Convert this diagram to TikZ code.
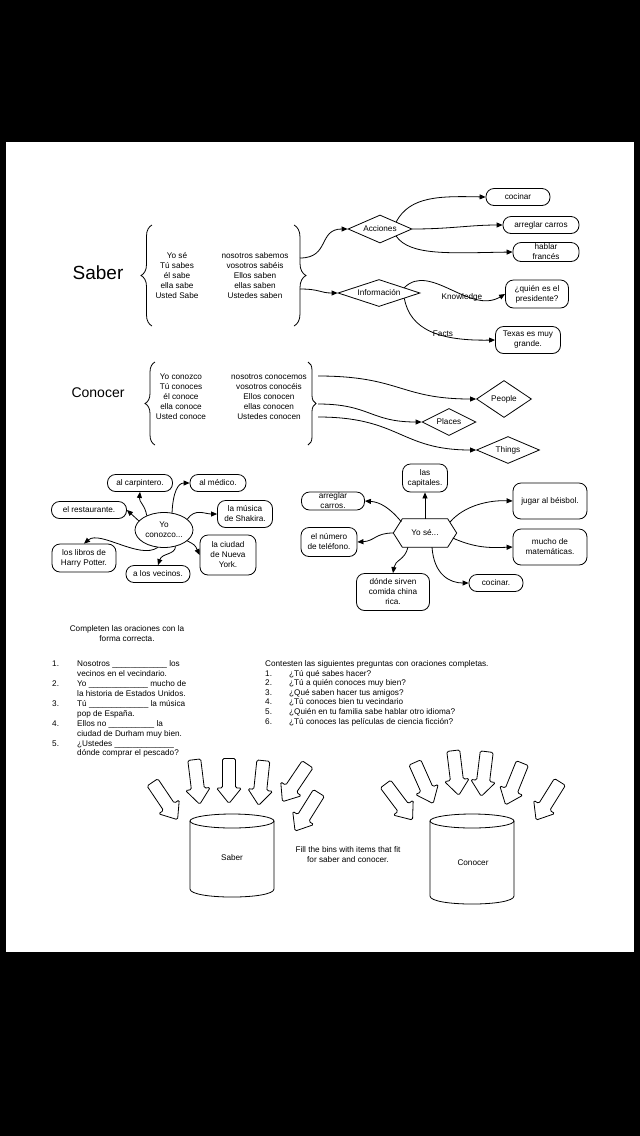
\documentclass[tikz,border=0pt]{standalone}
\usepackage{fontspec}
\setmainfont{Liberation Sans}
\usetikzlibrary{shapes.geometric,arrows.meta,decorations.pathreplacing}
\newcommand{\smallfs}{\fontsize{8.2}{10}\selectfont}
\begin{document}
\begin{tikzpicture}[x=1pt,y=-1pt,
  every node/.style={font=\smallfs, inner sep=0pt, align=center},
  box/.style={draw, line width=0.8pt, rounded corners=8pt},
  dia/.style={draw, diamond, line width=0.8pt},
  conn/.style={draw, line width=0.8pt, -{Triangle[length=6pt,width=5pt]}},
  brc/.style={draw, line width=0.8pt, decorate, decoration={brace, amplitude=#1}},
  tx/.style={anchor=base west, align=left},
  barrow/.pic={\draw[line width=0.8pt, rounded corners=1.5pt] (-22.5,-6.5) -- (7,-6.5) -- (7,-12.5) -- (22.5,0) -- (7,12.5) -- (7,6.5) -- (-22.5,6.5) -- cycle;}
  ]
\fill[black] (0,0) rectangle (640,1136);
\fill[white] (6,142) rectangle (634,952);

% ---------- Saber ----------
\node[font=\fontsize{19}{22}\selectfont] (saber) at (98,273) {Saber};
\node (s1) at (177,276) {Yo sé\\Tú sabes\\él sabe\\ella sabe\\Usted Sabe};
\node (s2) at (255,276) {nosotros sabemos\\vosotros sabéis\\Ellos saben\\ellas saben\\Ustedes saben};
\draw[brc=11pt] (152,326) -- (152,225);
\draw[brc=12pt] (294,225) -- (294,326);
\coordinate (sa) at (300,258);
\coordinate (sb) at (300,289);

\node[dia, minimum width=64, minimum height=28, aspect=2.3] (acc) at (380,229) {Acciones};
\node[dia, minimum width=82, minimum height=27, aspect=3] (info) at (379,293) {Información};

\node[box, minimum width=64, minimum height=17] (coc1) at (518,197) {cocinar};
\node[box, minimum width=76, minimum height=17] (arr1) at (541,225) {arreglar carros};
\node[box, minimum width=66, minimum height=19] (hab) at (546,252) {hablar\\francés};
\node[box, minimum width=63, minimum height=28] (qui) at (537,294) {¿quién es el\\presidente?};
\node[box, minimum width=65, minimum height=27] (tex) at (528,340) {Texas es muy\\grande.};

\draw[conn] (sa) .. controls (330,258) and (318,229) .. (acc.west);
\draw[conn] (sb) .. controls (320,289) and (320,293) .. (info.west);
\draw[conn] (acc.north east) .. controls (410,196) and (440,196) .. (coc1.west);
\draw[conn] (acc.east) .. controls (450,229) and (470,225) .. (arr1.west);
\draw[conn] (acc.south east) .. controls (410,256) and (450,253) .. (hab.west);
\draw[conn] (info.12) .. controls (430,262) and (470,315) .. (qui.west);
\draw[conn] (info.-12) .. controls (410,330) and (440,341) .. (tex.west);
\node (kn) at (462,297) {Knowledge};
\node (fa) at (443,334) {Facts};

% ---------- Conocer ----------
\node[font=\fontsize{14}{17}\selectfont] (conocer) at (98,393) {Conocer};
\node (c1) at (181,397) {Yo conozco\\Tú conoces\\él conoce\\ella conoce\\Usted conoce};
\node (c2) at (269,397) {nosotros conocemos\\vosotros conocéis\\Ellos conocen\\ellas conocen\\Ustedes conocen};
\draw[brc=10pt] (155,445) -- (155,362);
\draw[brc=8pt] (308,362) -- (308,445);
\coordinate (ca) at (318,376);
\coordinate (cb) at (318,404);
\coordinate (cc) at (318,417);
\node[dia, minimum width=55, minimum height=37, aspect=1.5] (peo) at (504,399) {People};
\node[dia, minimum width=54, minimum height=27, aspect=2] (pla) at (449,422) {Places};
\node[dia, minimum width=63, minimum height=27, aspect=2.3] (thi) at (508,450) {Things};
\draw[conn] (ca) .. controls (400,376) and (400,399) .. (peo.west);
\draw[conn] (cb) .. controls (370,404) and (370,422) .. (pla.west);
\draw[conn] (cc) .. controls (400,417) and (400,450) .. (thi.west);

% ---------- Yo conozco ----------
\node[draw, ellipse, line width=0.8pt, minimum width=58, minimum height=35] (yc) at (164,530) {Yo\\conozco...};
\node[box, minimum width=65, minimum height=17] (carp) at (140,483) {al carpintero.};
\node[box, minimum width=56, minimum height=17] (med) at (218,483) {al médico.};
\node[box, minimum width=75, minimum height=17] (rest) at (89,510) {el restaurante.};
\node[box, minimum width=55, minimum height=27] (shak) at (245,514) {la música\\de Shakira.};
\node[box, minimum width=64, minimum height=28] (hp) at (84,558) {los libros de\\Harry Potter.};
\node[box, minimum width=64, minimum height=17] (vec) at (158,574) {a los vecinos.};
\node[box, minimum width=56, minimum height=40] (ny) at (228,555) {la ciudad\\de Nueva\\York.};

\draw[conn] (yc.140) .. controls (145,505) and (139,502) .. (carp.south);
\draw[conn] (yc.65) .. controls (173,492) and (178,483) .. (med.west);
\draw[conn] (yc.160) -- (rest.east);
\draw[conn] (yc.25) .. controls (195,508) and (205,514) .. (shak.west);
\draw[conn] (yc.-25) .. controls (195,545) .. (ny.west);
\draw[conn] (yc.-55) .. controls (175,555) and (162,553) .. (vec.north);
\draw[conn] (yc.-110) .. controls (140,560) and (100,530) .. (hp.north);

% ---------- Yo se ----------
\node[minimum width=63, minimum height=28] (yose) at (425,533) {Yo sé...};
\draw[line width=0.8pt] (yose.west) -- ([xshift=9pt]yose.north west) -- ([xshift=-9pt]yose.north east) -- (yose.east) -- ([xshift=-9pt]yose.south east) -- ([xshift=9pt]yose.south west) -- cycle;
\node[box, minimum width=45, minimum height=28] (cap) at (425,478) {las\\capitales.};
\node[box, minimum width=63, minimum height=18] (arr2) at (333,501) {arreglar\\carros.};
\node[box, minimum width=56, minimum height=29] (num) at (329,542) {el número\\de teléfono.};
\node[box, minimum width=73, minimum height=37] (don) at (393,592) {dónde sirven\\comida china\\rica.};
\node[box, minimum width=54, minimum height=17] (coc2) at (496,583) {cocinar.};
\node[box, minimum width=74, minimum height=36] (mat) at (550,547) {mucho de\\matemáticas.};
\node[box, minimum width=74, minimum height=36] (beis) at (550,501) {jugar al béisbol.};

\draw[conn] (yose.north) -- (cap.south);
\draw[conn] ([xshift=8pt,yshift=-3pt]yose.north west) .. controls (390,508) and (380,502) .. (arr2.east);
\draw[conn] (yose.west) .. controls (375,533) and (375,541) .. (num.east);
\draw[conn] ([xshift=-17pt]yose.south) .. controls (405,560) and (395,560) .. (don.north);
\draw[conn] ([xshift=7pt]yose.south) .. controls (434,575) and (450,583) .. (coc2.west);
\draw[conn] ([xshift=-4pt,yshift=-5pt]yose.east) .. controls (475,548) and (490,548) .. (mat.west);
\draw[conn] ([xshift=-6.5pt,yshift=-3pt]yose.north east) .. controls (465,505) and (490,500) .. (beis.west);

% ---------- Exercises ----------
\node (comp) at (127,633.5) {Completen las oraciones con la\\forma correcta.};

\node[tx] (n1) at (52,666) {1.};
\node[tx] (l1a) at (77,666) {Nosotros \_\_\_\_\_\_\_\_\_\_\_\_ los};
\node[tx] (l1b) at (77,676) {vecinos en el vecindario.};
\node[tx] (n2) at (52,686) {2.};
\node[tx] (l2a) at (77,686) {Yo \_\_\_\_\_\_\_\_\_\_\_\_\_ mucho de};
\node[tx] (l2b) at (77,696) {la historia de Estados Unidos.};
\node[tx] (n3) at (52,706) {3.};
\node[tx] (l3a) at (77,706) {Tú \_\_\_\_\_\_\_\_\_\_\_\_\_ la música};
\node[tx] (l3b) at (77,716) {pop de España.};
\node[tx] (n4) at (52,726) {4.};
\node[tx] (l4a) at (77,726) {Ellos no \_\_\_\_\_\_\_\_\_\_ la};
\node[tx] (l4b) at (77,736) {ciudad de Durham muy bien.};
\node[tx] (n5) at (52,746) {5.};
\node[tx] (l5a) at (77,746) {¿Ustedes \_\_\_\_\_\_\_\_\_\_\_\_\_};
\node[tx] (l5b) at (77,755.5) {dónde comprar el pescado?};

\node[tx] (q0) at (265,666) {Contesten las siguientes preguntas con oraciones completas.};
\node[tx] (m1) at (265,676) {1.};
\node[tx] (q1) at (289,676) {¿Tú qué sabes hacer?};
\node[tx] (m2) at (265,685.6) {2.};
\node[tx] (q2) at (289,685.6) {¿Tú a quién conoces muy bien?};
\node[tx] (m3) at (265,695.2) {3.};
\node[tx] (q3) at (289,695.2) {¿Qué saben hacer tus amigos?};
\node[tx] (m4) at (265,704.8) {4.};
\node[tx] (q4) at (289,704.8) {¿Tú conoces bien tu vecindario};
\node[tx] (m5) at (265,714.4) {5.};
\node[tx] (q5) at (289,714.4) {¿Quién en tu familia sabe hablar otro idioma?};
\node[tx] (m6) at (265,724) {6.};
\node[tx] (q6) at (289,724) {¿Tú conoces las películas de ciencia ficción?};

% ---------- Bins ----------
\pic[rotate=-56] at (165,801) {barrow};
\pic[rotate=-83] at (197,782) {barrow};
\pic[rotate=-90] at (229,781) {barrow};
\pic[rotate=-96] at (261,783) {barrow};
\pic[rotate=-124] at (295,783) {barrow};
\pic[rotate=-122] at (307,812) {barrow};

\pic[rotate=-53] at (399,802) {barrow};
\pic[rotate=-66] at (424,783) {barrow};
\pic[rotate=-83] at (456,773) {barrow};
\pic[rotate=-97] at (484,774) {barrow};
\pic[rotate=-112] at (514,784) {barrow};
\pic[rotate=-122] at (548,801) {barrow};

\draw[line width=0.8pt] (190,821) -- (190,889) .. controls (190,899.7) and (274,899.7) .. (274,889) -- (274,821);
\draw[line width=0.8pt] (232,821) ellipse [x radius=42, y radius=7];
\node (sbin) at (232,858) {Saber};

\draw[line width=0.8pt] (430,821) -- (430,896) .. controls (430,906.7) and (514,906.7) .. (514,896) -- (514,821);
\draw[line width=0.8pt] (472,821) ellipse [x radius=42, y radius=7];
\node (cbin) at (473,863) {Conocer};

\node (fill) at (348,854.5) {Fill the bins with items that fit\\for saber and conocer.};
\end{tikzpicture}
\end{document}
